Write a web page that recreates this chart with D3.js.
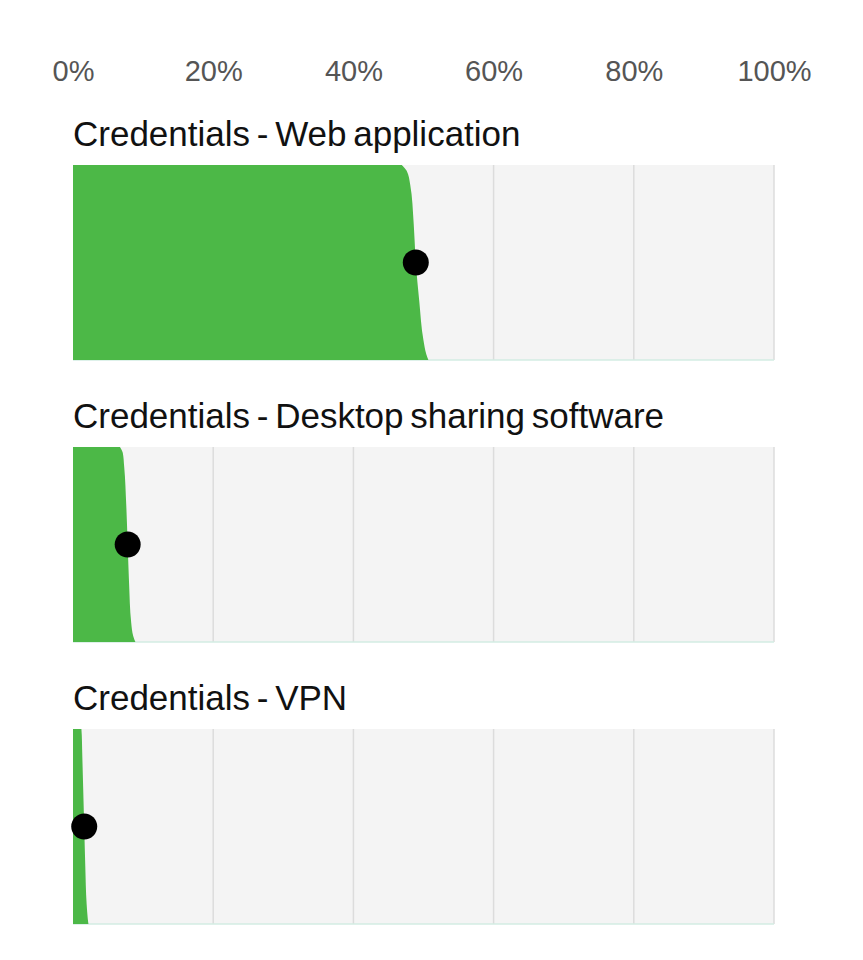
<!DOCTYPE html>
<html>
<head>
<meta charset="utf-8">
<script src="https://cdn.jsdelivr.net/npm/d3@7"></script>
<style>
  body { margin: 0; background: #fff; }
  text { font-family: "Liberation Sans", Arial, sans-serif; }
</style>
</head>
<body>
<div id="chart"></div>
<script>
// chart data
var categories = ["Credentials - Web application", "Credentials - Desktop sharing software", "Credentials - VPN"];
var pointValues = [48.9, 7.8, 1.6];
// quantile edge of each green band, read top to bottom at the fractions below
var quantileLevels = [0, 0.03, 0.1, 0.3, 0.5, 0.7, 0.9, 0.97, 1];
var webEdge = [46.9, 47.6, 48.1, 48.6, 48.9, 49.4, 50.0, 50.4, 50.7];
var desktopEdge = [6.7, 7.1, 7.3, 7.6, 7.8, 8.0, 8.3, 8.6, 8.9];
var vpnEdge = [1.2, 1.25, 1.3, 1.45, 1.6, 1.75, 1.95, 2.1, 2.2];
var edges = [webEdge, desktopEdge, vpnEdge];
var tickValues = [0, 20, 40, 60, 80, 100];

// sizes
var svgWidth = 863;
var svgHeight = 960;
var panelTop = 165;
var panelHeight = 195;
var panelStep = 282;

var svg = d3.select("#chart").append("svg")
    .attr("width", svgWidth)
    .attr("height", svgHeight);

var x = d3.scaleLinear().domain([0, 100]).range([73, 774]);

// top axis labels
var topAxis = d3.axisTop(x)
    .tickValues(tickValues)
    .tickSize(0)
    .tickPadding(0)
    .tickFormat(d => d + "%");

var axisG = svg.append("g")
    .attr("transform", "translate(0, 81)")
    .call(topAxis);
axisG.select(".domain").remove();
axisG.selectAll("text")
    .attr("font-size", 29)
    .attr("fill", "#555")
    .style("font-family", "'Liberation Sans', Arial, sans-serif");

categories.forEach(function(cat, i) {
    var top = panelTop + i * panelStep;
    var g = svg.append("g").attr("transform", `translate(0, ${top})`);
    var y = d3.scaleLinear().domain([0, 1]).range([0, panelHeight]);

    // title
    svg.append("text")
        .attr("x", x(0))
        .attr("y", top - 19)
        .attr("font-size", 35)
        .attr("word-spacing", -3)
        .attr("fill", "#111")
        .text(cat);

    // background
    g.append("rect")
        .attr("x", x(0))
        .attr("y", 0)
        .attr("width", x(100) - x(0))
        .attr("height", panelHeight)
        .attr("fill", "#f4f4f4");

    // grid lines
    g.selectAll(".grid")
        .data(tickValues.slice(1))
        .join("line")
        .attr("x1", d => x(d))
        .attr("x2", d => x(d))
        .attr("y1", 0)
        .attr("y2", panelHeight)
        .attr("stroke", "#dcdcdc")
        .attr("stroke-width", 1.5);

    // bottom edge
    g.append("line")
        .attr("x1", x(0))
        .attr("x2", x(100))
        .attr("y1", panelHeight)
        .attr("y2", panelHeight)
        .attr("stroke", "#d3ece3")
        .attr("stroke-width", 1.5);

    // green quantile band
    var pts = quantileLevels.map((q, j) => ({ q: q, v: edges[i][j] }));
    var area = d3.area()
        .curve(d3.curveMonotoneY)
        .y(d => y(d.q))
        .x0(x(0))
        .x1(d => x(d.v));
    g.append("path")
        .datum(pts)
        .attr("d", area)
        .attr("fill", "#4cb847");

    // point estimate
    g.append("circle")
        .attr("cx", x(pointValues[i]))
        .attr("cy", y(0.5))
        .attr("r", 13)
        .attr("fill", "#000");
});
</script>
</body>
</html>
